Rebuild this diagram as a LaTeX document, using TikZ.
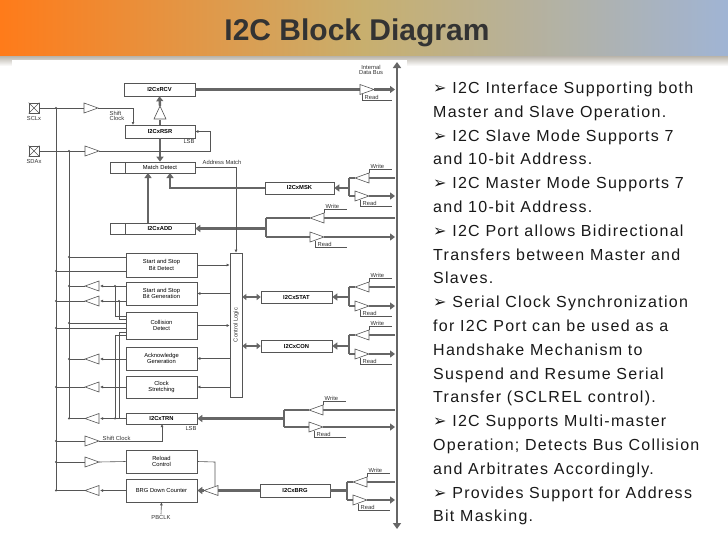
\documentclass[tikz,border=0pt]{standalone}
\usepackage{fontspec}
\setmainfont{Liberation Sans}
\newfontfamily\dvf{DejaVu Sans}
\newfontfamily\rtf{Liberation Sans}[LetterSpace=8]
\usetikzlibrary{arrows.meta}
\definecolor{lc}{HTML}{555555}
\definecolor{tk}{HTML}{666666}
\begin{document}
\begin{tikzpicture}[x=1pt,y=-1pt,
  ln/.style={draw=lc,line width=0.6pt},
  la/.style={ln,-{Latex[length=3pt,width=3pt]}},
  thk/.style={draw=tk,line width=2.4pt},
  ta/.style={thk,-{Triangle[length=5pt,width=7pt]}},
  box/.style={draw=lc,fill=white,line width=0.6pt,inner sep=0.5pt,align=center,font=\fontsize{5.8}{6.4}\selectfont},
  reg/.style={box,font=\bfseries\fontsize{5.8}{6.4}\selectfont},
  lbl/.style={font=\fontsize{5.8}{6.4}\selectfont,inner sep=0.5pt,text=black!80,align=left},
  dot/.style={circle,fill=lc,inner sep=0pt,minimum size=2.2pt},
  bufR/.pic={\draw[ln,fill=white] (-7,-5)--(7,0)--(-7,5)--cycle;},
  bufL/.pic={\draw[ln,fill=white] (7,-5)--(-7,0)--(7,5)--cycle;},
  bufU/.pic={\draw[ln,fill=white] (-6,6)--(0,-7)--(6,6)--cycle;}
]
\useasboundingbox (0,0) rectangle (728,546);
% background
\fill[white] (0,0) rectangle (728,546);
\shade[left color=orange!85!red!90,right color={rgb,255:red,160;green,180;blue,212},middle color={rgb,255:red,200;green,175;blue,110}] (0,0) rectangle (728,56);
\shade[top color={rgb,255:red,185;green,180;blue,170},bottom color=white] (0,56) rectangle (728,66);
\node[font=\bfseries\fontsize{30}{32}\selectfont,text=black!80] (title) at (357,33) {I2C Block Diagram};
% panel
\fill[white] (12,60) rectangle (407,534);
% right text
\foreach \t [count=\i from 0] in {{{\dvf ➢} I2C Interface Supporting both},{Master and Slave Operation.},{{\dvf ➢} I2C Slave Mode Supports 7},{and 10-bit Address.},{{\dvf ➢} I2C Master Mode Supports 7},{and 10-bit Address.},{{\dvf ➢} I2C Port allows Bidirectional},{Transfers between Master and},{Slaves.},{{\dvf ➢} Serial Clock Synchronization},{for I2C Port can be used as a},{Handshake Mechanism to},{Suspend and Resume Serial},{Transfer (SCLREL control).},{{\dvf ➢} I2C Supports Multi-master},{Operation; Detects Bus Collision},{and Arbitrates Accordingly.},{{\dvf ➢} Provides Support for Address},{Bit Masking.}}
  \node[anchor=base west,inner sep=0pt,font=\rtf\fontsize{16}{17}\selectfont,text=black!90] (t\i) at (433,{93.5+23.8*\i}) {\t};
% bus
\draw[thk,{Triangle[length=6pt,width=8pt]}-{Triangle[length=6pt,width=8pt]}] (397,529) -- (397,62);
\node[lbl,align=center] (ibus) at (371,70) {Internal\\[-1.5pt]Data Bus};
% boxes
\node[reg,minimum width=71,minimum height=13] (rcv) at (159.5,89.5) {I2CxRCV};
\node[reg,minimum width=70,minimum height=13] (rsr) at (160,131.5) {I2CxRSR};
\node[box,minimum width=70,minimum height=11] (match) at (160,167.5) {Match Detect};
\draw[ln] (110,162) rectangle (125,173);
\node[reg,minimum width=69,minimum height=12] (msk) at (299.5,188) {I2CxMSK};
\node[reg,minimum width=70,minimum height=11] (add) at (160,228.5) {I2CxADD};
\draw[ln] (110,223) rectangle (125,234);
\node[box,minimum width=71,minimum height=24] (ssd) at (161.5,265) {Start and Stop\\Bit Detect};
\node[box,minimum width=71,minimum height=23] (ssg) at (161.5,293.5) {Start and Stop\\Bit Generation};
\node[box,minimum width=71,minimum height=27] (col) at (161.5,325.5) {Collision\\Detect};
\node[box,minimum width=71,minimum height=23] (ack) at (161.5,358.5) {Acknowledge\\Generation};
\node[box,minimum width=71,minimum height=22] (clk) at (161.5,387) {Clock\\Stretching};
\node[reg,minimum width=71,minimum height=11] (trn) at (161.5,418.5) {I2CxTRN};
\node[box,minimum width=71,minimum height=23] (rel) at (161.5,461.5) {Reload\\Control};
\node[box,minimum width=71,minimum height=23] (brg) at (161.5,490.5) {BRG Down Counter};
\node[box,minimum width=12,minimum height=144] (cl) at (236,325) {};
\node[lbl,rotate=90] (cltxt) at (236,325) {Control Logic};
\node[reg,minimum width=71,minimum height=12] (stat) at (296.5,297) {I2CxSTAT};
\node[reg,minimum width=71,minimum height=12] (con) at (296.5,346) {I2CxCON};
\node[reg,minimum width=70,minimum height=13] (brgr) at (295,490.5) {I2CxBRG};
\node[box,minimum width=10,minimum height=10] (scl) at (34,108) {};
\draw[ln] (scl.north west)--(scl.south east) (scl.north east)--(scl.south west);
\node[box,minimum width=10,minimum height=10] (sda) at (34,151) {};
\draw[ln] (sda.north west)--(sda.south east) (sda.north east)--(sda.south west);
\node[lbl] (scllbl) at (34,118.5) {SCLx};
\node[lbl] (sdalbl) at (34,161.5) {SDAx};
% RCV to bus
\draw[thk] (rcv.east) -- (360,89.5);
\pic at (367,89.5) {bufR};
\draw[ta] (374,89.5) -- (395,89.5);
\draw[ln] (362,94) -- (362,100) -- (392,100);
\node[lbl,anchor=south west] at (364,100) {Read};
% register branches
\newcommand\regio[5]{% Bx Cx Yw Yr Ym
  \draw[thk] (#1,#3) -- (#1,#4);
  \draw[thk] (395,#3) -- (#2+7,#3);
  \draw[thk] (#2-7,#3) -- (#1,#3);
  \pic at (#2,#3) {bufL};
  \draw[thk] (#1,#4) -- (#2-7,#4);
  \draw[ta] (#2+7,#4) -- (395,#4);
  \pic at (#2,#4) {bufR};
  \draw[ln] (#2+7,#3-5) -- (#2+7,#3-9) -- (#2+30,#3-9);
  \node[lbl,anchor=south west] at (#2+8,#3-9) {Write};
  \draw[ln] (#2-2,#4+4) -- (#2-2,#4+10) -- (#2+30,#4+10);
  \node[lbl,anchor=south west] at (#2,#4+10) {Read};}
\regio{349}{362}{178}{196}{188}
\draw[ta] (349,188) -- (msk.east);
\regio{266}{317}{218}{237}{228.5}
\draw[ta] (266,228.5) -- (add.east);
\regio{349}{362}{287}{306}{297}
\draw[ta] (349,297) -- (stat.east);
\regio{349}{362}{335}{354}{346}
\draw[ta] (349,346) -- (con.east);
\regio{284}{316}{410}{427}{418.5}
\draw[ta] (284,418.5) -- (trn.east);
\regio{347}{360}{482}{500}{490.5}
\draw[thk] (347,490.5) -- (brgr.east);
% control logic links
\draw[thk,{Triangle[length=4pt,width=6pt]}-{Triangle[length=4pt,width=6pt]}] (cl.east|-stat) -- (stat.west);
\draw[thk,{Triangle[length=4pt,width=6pt]}-{Triangle[length=4pt,width=6pt]}] (cl.east|-con) -- (con.west);
\draw[la] (ssd.east) -- (cl.west|-ssd);
\draw[la] (col.east) -- (cl.west|-col);
\draw[la] (cl.west|-ssg) -- (ssg.east);
\draw[la] (cl.west|-ack) -- (ack.east);
\draw[la] (cl.west|-clk) -- (clk.east);
\draw[la] (match.east) -- (236,167.5) -- (cl.north);
\node[lbl,anchor=south] (am) at (222,165) {Address Match};
% shift register paths
\draw[thk] (rsr.north) -- (160,120);
\pic at (160,113) {bufU};
\draw[ta] (160,106) -- (rcv.south);
\draw[ta] (rsr.south) -- (match.north);
\draw[ta] (msk.west) -- (170,188) -- (170,173);
\draw[ta] (148,223) -- (148,173);
\node[lbl] at (189,141.5) {LSB};
\node[lbl] at (191,428.5) {LSB};
% SCL / SDA
\pic at (91,108) {bufR};
\draw[ln] (scl.east) -- (84,108);
\draw[la] (98,108) -- (133,108) -- (133,125);
\node[lbl,anchor=north west] at (109,111) {Shift\\[-1.5pt]Clock};
\pic at (92,151) {bufR};
\draw[ln] (sda.east) -- (85,151);
\draw[la] (99,151) -- (210,151) -- (210,131.5) -- (rsr.east);
\draw[ln] (56,108) -- (56,490.5);
\draw[ln] (69,151) -- (69,418.5);
\node[dot] at (56,108) {}; \node[dot] at (69,151) {};
% start stop detect inputs
\draw[ln] (69,257) -- (126,257); \node[dot] at (69,257) {};
\draw[ln] (56,271) -- (126,271); \node[dot] at (56,271) {};
% output buffers
\foreach \y/\x in {286/69,301/56,359/69,387/56,418.5/69,490.5/56}{
  \pic at (92,\y) {bufL};
  \draw[ln] (85,\y) -- (\x,\y);
  \node[dot] at (\x,\y) {};
  \draw[la] (126,\y) -- (100,\y);}
% collision detect inputs
\draw[ln] (69,323) -- (126,323); \node[dot] at (69,323) {};
\draw[ln] (56,328) -- (126,328); \node[dot] at (56,328) {};
\draw[ln] (115,286) -- (115,316) -- (126,316); \node[dot] at (115,286) {};
\draw[ln] (119,301) -- (119,319) -- (126,319); \node[dot] at (119,301) {};
\draw[ln] (115,418.5) -- (115,335) -- (126,335); \node[dot] at (115,418.5) {};
\draw[ln] (119,418.5) -- (119,332) -- (126,332);
% shift clock for TRN
\pic at (92,441) {bufR};
\draw[ln] (56,441) -- (85,441); \node[dot] at (56,441) {};
\draw[la] (99,441) -- (162,441) -- (162,424);
\node[lbl,anchor=south west] at (102,441) {Shift Clock};
% reload
\pic at (92,462) {bufR};
\draw[ln] (56,462) -- (85,462); \node[dot] at (56,462) {};
\draw[ln] (99,462) -- (rel.west);
\draw[ln] (rel.east) -- (215,462) -- (215,486);
% BRG
\pic at (211,490.5) {bufL};
\draw[thk] (brgr.west) -- (218,490.5);
\draw[ta] (204,490.5) -- (brg.east);
\node[lbl] (pb) at (161,517) {PBCLK};
\draw[la] (pb.north) -- (brg.south);
\end{tikzpicture}
\end{document}
